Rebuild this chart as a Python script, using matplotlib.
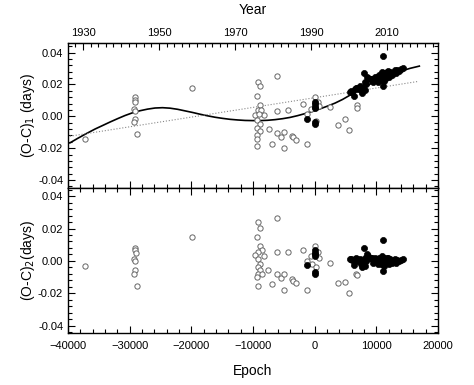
import numpy as np
import matplotlib.pyplot as plt
from matplotlib.ticker import MultipleLocator

plt.rcParams['font.family'] = ['Liberation Sans', 'DejaVu Sans']

# fitted curve and linear ephemeris
curve_e = [-39700, -38500, -37240, -35620, -34400, -33190, -31970, -30750, -29540,
           -28320, -27100, -25890, -24670, -23460, -22240, -21020, -19800, -18590,
           -17370, -16150, -14940, -13720, -12510, -11290, -10070, -8860, -7640,
           -6430, -5210, -3990, -2780, -1560, -340, 880, 2090, 3310, 4530, 5740,
           6960, 8170, 9390, 10610, 11820, 13040, 14260, 15470, 16970]
curve_v = [-0.0167, -0.0140, -0.0113, -0.0080, -0.0058, -0.0036, -0.0015, 0.0005, 0.0022,
           0.0035, 0.0045, 0.0052, 0.0054, 0.0051, 0.0044, 0.0034, 0.0024, 0.0013,
           0.0003, -0.0006, -0.0013, -0.0019, -0.0023, -0.0026, -0.0027, -0.0027, -0.0025,
           -0.0021, -0.0015, -0.0007, 0.0004, 0.0017, 0.0031, 0.0047, 0.0064, 0.0083, 0.0106, 0.0133,
           0.0160, 0.0186, 0.0210, 0.0232, 0.0252, 0.0271, 0.0287, 0.0301, 0.0315]
lin_e = [-39700, 16810]
lin_v = [-0.0125, 0.0219]

# open circles, top panel
open1_e = [-37240, -29135, -29135, -29135, -29300, -29135, -29135, -29300, -28760,
           -19940, -9140, -8866, -9400, -8866, -9140, -9680, -8218, -9400, -8866,
           -9400, -8866, -9400, -9300, -9300, -8700, -9000, -7460, -6160, -6160,
           -6160, -6920, -5510, -4920, -4920, -4280, -3730, -3570, -3030, -1840,
           -1300, -1190, -650, 50, 600, 770, 220, 2490, 3830, 4920, 5620, 6810, 6920]
open1_v = [-0.0144, 0.012, 0.0105, 0.009, 0.0044, 0.0035, -0.0014, -0.0036, -0.0113,
           0.018, 0.0215, 0.0188, 0.0125, 0.0069, 0.0037, 0.0006, 0.0006, -0.0025, -0.0046,
           -0.0071, -0.0092, -0.0119, -0.014, -0.0185, 0.004, 0.0015, -0.0081, 0.025, 0.0033,
           -0.0104, -0.0171, -0.0129, -0.0098, -0.020, 0.0042, -0.0125, -0.0133, -0.0146, 0.0075,
           -0.0171, 0.0017, 0.0048, 0.012, 0.0089, 0.0063, -0.0029, 0.0058, -0.0056, -0.0019,
           -0.0083, 0.0069, 0.0054]

# open circles, bottom panel
open2_e = [-37240, -29135, -29135, -29000, -29300, -29135, -29135, -29300, -28760,
           -19940, -9400, -9130, -8866, -6160, -8866, -8600, -9270, -9680, -8220,
           -9270, -8866, -9270, -8866, -9270, -9400, -9270, -8600, -7520, -6160,
           -6920, -6160, -5510, -4920, -4920, -4280, -3730, -3570, -3030, -1840,
           -1300, -1190, -650, -480, 50, 600, 770, 220, 2490, 3830, 4920, 5620, 6700, 6810]
open2_v = [-0.0031, 0.0082, 0.0066, 0.0049, 0.0009, 0.0, -0.0057, -0.0078, -0.0154,
           0.0148, 0.0148, 0.024, 0.0206, 0.0265, 0.009, 0.007, 0.0055, 0.0035, 0.0029,
           0.0009, -0.0016, -0.0037, -0.0057, -0.0078, -0.0102, -0.0156, -0.0078, -0.0053, 0.0055,
           -0.0143, -0.0082, -0.0108, -0.0078, -0.018, 0.0055, -0.0114, -0.0123, -0.0139, 0.0066,
           -0.018, 0.0, 0.0029, -0.0016, 0.0092, 0.0055, 0.0021, -0.0037, -0.001, -0.0139,
           -0.0129, -0.020, -0.0078, -0.0088]

# filled circles (CCD timings)
fill_e = [-1190, 50, 50, 80, 50, 50, 80,
          5700, 5900, 6100, 6300, 6500, 6700, 6900, 7100, 7300, 7500, 7700, 7800,
          8000, 8100, 8200, 8300, 8500, 8700, 8900, 9100, 9300, 9500, 9700, 9900,
          10100, 10300, 10400, 10500, 10700, 10800, 10900, 11000, 11100, 11150, 11200,
          11300, 11400, 11500, 11600, 11700, 11800, 11900, 12000, 12100, 12200, 12400,
          12600, 12800, 13000, 13200, 13400, 13700, 14000, 14300]
fill1_v = [-0.0014, 0.009, 0.0075, 0.006, 0.0054, -0.0036, -0.0046,
           0.0151, 0.0156, 0.0155, 0.013, 0.017, 0.018, 0.018, 0.0174, 0.0188, 0.0163, 0.0147, 0.018,
           0.0274, 0.0166, 0.0218, 0.020, 0.0244, 0.0238, 0.0232, 0.0236, 0.0235, 0.0213, 0.0247, 0.0235,
           0.0244, 0.0217, 0.0259, 0.024, 0.0254, 0.0225, 0.0277, 0.0258, 0.0378, 0.0189, 0.0222,
           0.0274, 0.0265, 0.0242, 0.0263, 0.0275, 0.0251, 0.0283, 0.0264, 0.0246, 0.0277, 0.027,
           0.0258, 0.0281, 0.0288, 0.0271, 0.0288, 0.0287, 0.0295, 0.0304]
fill2_v = [-0.0026, 0.0066, 0.005, 0.004, 0.0029, -0.0068, -0.0078,
           0.001, 0.001, 0.0005, -0.0025, 0.001, 0.0015, 0.001, 0.0, 0.001, -0.002, -0.004, -0.001,
           0.008, -0.003, 0.002, 0.0, 0.004, 0.003, 0.002, 0.002, 0.0015, -0.001, 0.002, 0.0005,
           0.001, -0.002, 0.002, 0.0, 0.001, -0.002, 0.003, 0.001, 0.0132, -0.0062, -0.003,
           0.002, 0.001, -0.0015, 0.0005, 0.0015, -0.001, 0.002, 0.0, -0.002, 0.001, 0.0,
           -0.0015, 0.0005, 0.001, -0.001, 0.0005, 0.0, 0.0005, 0.001]

year_ticks = [1930, 1950, 1970, 1990, 2010]


def e2y(e):
    return 1990.96 + np.asarray(e) / 616.2


def y2e(y):
    return (np.asarray(y) - 1990.96) * 616.2


fig = plt.figure(figsize=(4.74, 3.85), dpi=100)
ax1 = fig.add_axes([0.1435, 0.5117, 0.7806, 0.3766])
ax2 = fig.add_axes([0.1435, 0.135, 0.7806, 0.3767], sharex=ax1)

ocol = '#666666'
for ax, ov_e, ov_v, fv in [(ax1, open1_e, open1_v, fill1_v), (ax2, open2_e, open2_v, fill2_v)]:
    ax.plot(ov_e, ov_v, 'o', ms=3.8, mfc='white', mec=ocol, mew=0.7, ls='none', zorder=3)
    ax.plot(fill_e, fv, 'o', ms=4.4, mfc='black', mec='black', mew=0.5, ls='none', zorder=4)
    ax.set_xlim(-40000, 20000)
    ax.xaxis.set_major_locator(MultipleLocator(10000))
    ax.xaxis.set_minor_locator(MultipleLocator(2000))
    ax.yaxis.set_major_locator(MultipleLocator(0.02))
    ax.yaxis.set_minor_locator(MultipleLocator(0.004))
    ax.yaxis.set_major_formatter(plt.FuncFormatter(lambda v, p: '%.2f' % v))
    ax.tick_params(which='both', direction='in', right=True, labelsize=8, width=0.8)
    ax.tick_params(axis='x', pad=6)
    ax.tick_params(which='major', length=5)
    ax.tick_params(which='minor', length=3)
    for s in ax.spines.values():
        s.set_linewidth(1.0)

ax1.plot(curve_e, curve_v, color='black', lw=1.2, zorder=2)
ax1.plot(lin_e, lin_v, color='#888888', lw=0.8, ls=':', zorder=2)

ax1.set_ylim(-0.045, 0.046)
ax2.set_ylim(-0.0445, 0.045)
ax1.tick_params(axis='x', which='both', top=False, labelbottom=False)
ax2.tick_params(axis='x', which='both', top=True)

ax1.set_ylabel('(O-C)$_1$ (days)', fontsize=10, labelpad=1)
ax2.set_ylabel('(O-C)$_2$(days)', fontsize=10, labelpad=1)
ax2.set_xlabel('Epoch', fontsize=10, labelpad=9)

top = ax1.secondary_xaxis('top', functions=(e2y, y2e))
top.set_xticks(year_ticks)
top.xaxis.set_minor_locator(MultipleLocator(2))
top.tick_params(which='both', direction='in', labelsize=8, width=0.8)
top.tick_params(which='major', length=5)
top.tick_params(which='minor', length=3)
top.set_xlabel('Year', fontsize=10, labelpad=10)

fig.savefig('out.png', dpi=100)
